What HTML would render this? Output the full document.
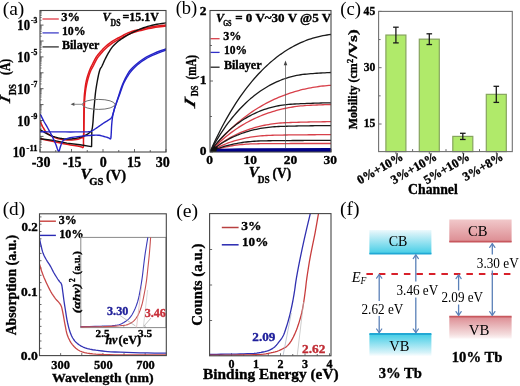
<!DOCTYPE html>
<html><head><meta charset="utf-8"><style>
html,body{margin:0;padding:0;background:#fff;}
svg{display:block;font-family:"Liberation Serif","Times New Roman",serif;}
</style></head><body>
<svg width="520" height="386" viewBox="0 0 520 386">
<rect width="520" height="386" fill="#fff"/>
<defs>
<clipPath id="ca"><rect x="40" y="10.5" width="126" height="141.5"/></clipPath>
<clipPath id="cb"><rect x="210" y="10.5" width="121" height="141.5"/></clipPath>
<clipPath id="ce"><rect x="209.6" y="213.6" width="121.4" height="142.2"/></clipPath>
<linearGradient id="gcb" x1="0" y1="0" x2="0" y2="1"><stop offset="0" stop-color="#eefafd"/><stop offset="0.15" stop-color="#d2f1f8"/><stop offset="1" stop-color="#42cde6"/></linearGradient>
<linearGradient id="gvb" x1="0" y1="0" x2="0" y2="1"><stop offset="0" stop-color="#42cde6"/><stop offset="0.85" stop-color="#d8f3f9"/><stop offset="1" stop-color="#fbfeff"/></linearGradient>
<linearGradient id="gcr" x1="0" y1="0" x2="0" y2="1"><stop offset="0" stop-color="#f1c8ca"/><stop offset="1" stop-color="#dc8c92"/></linearGradient>
<linearGradient id="gvr" x1="0" y1="0" x2="0" y2="1"><stop offset="0" stop-color="#dc8c92"/><stop offset="0.8" stop-color="#f4dcdd"/><stop offset="1" stop-color="#fdf6f6"/></linearGradient>
</defs>
<text x="2.7" y="14.6" font-size="19.5" fill="#000" style="" >(a)</text><line x1="40" y1="147.51" x2="41.8" y2="147.51" stroke="#454545" stroke-width="0.6" /><line x1="40" y1="144.71" x2="41.8" y2="144.71" stroke="#454545" stroke-width="0.6" /><line x1="40" y1="142.73" x2="41.8" y2="142.73" stroke="#454545" stroke-width="0.6" /><line x1="40" y1="141.19" x2="41.8" y2="141.19" stroke="#454545" stroke-width="0.6" /><line x1="40" y1="139.93" x2="41.8" y2="139.93" stroke="#454545" stroke-width="0.6" /><line x1="40" y1="138.86" x2="41.8" y2="138.86" stroke="#454545" stroke-width="0.6" /><line x1="40" y1="137.94" x2="41.8" y2="137.94" stroke="#454545" stroke-width="0.6" /><line x1="40" y1="137.13" x2="41.8" y2="137.13" stroke="#454545" stroke-width="0.6" /><line x1="40" y1="136.4" x2="43.5" y2="136.4" stroke="#454545" stroke-width="0.9" /><line x1="40" y1="131.61" x2="41.8" y2="131.61" stroke="#454545" stroke-width="0.6" /><line x1="40" y1="128.81" x2="41.8" y2="128.81" stroke="#454545" stroke-width="0.6" /><line x1="40" y1="126.83" x2="41.8" y2="126.83" stroke="#454545" stroke-width="0.6" /><line x1="40" y1="125.29" x2="41.8" y2="125.29" stroke="#454545" stroke-width="0.6" /><line x1="40" y1="124.03" x2="41.8" y2="124.03" stroke="#454545" stroke-width="0.6" /><line x1="40" y1="122.96" x2="41.8" y2="122.96" stroke="#454545" stroke-width="0.6" /><line x1="40" y1="122.04" x2="41.8" y2="122.04" stroke="#454545" stroke-width="0.6" /><line x1="40" y1="121.23" x2="41.8" y2="121.23" stroke="#454545" stroke-width="0.6" /><line x1="40" y1="120.5" x2="43.5" y2="120.5" stroke="#454545" stroke-width="0.9" /><line x1="40" y1="115.71" x2="41.8" y2="115.71" stroke="#454545" stroke-width="0.6" /><line x1="40" y1="112.91" x2="41.8" y2="112.91" stroke="#454545" stroke-width="0.6" /><line x1="40" y1="110.93" x2="41.8" y2="110.93" stroke="#454545" stroke-width="0.6" /><line x1="40" y1="109.39" x2="41.8" y2="109.39" stroke="#454545" stroke-width="0.6" /><line x1="40" y1="108.13" x2="41.8" y2="108.13" stroke="#454545" stroke-width="0.6" /><line x1="40" y1="107.06" x2="41.8" y2="107.06" stroke="#454545" stroke-width="0.6" /><line x1="40" y1="106.14" x2="41.8" y2="106.14" stroke="#454545" stroke-width="0.6" /><line x1="40" y1="105.33" x2="41.8" y2="105.33" stroke="#454545" stroke-width="0.6" /><line x1="40" y1="104.6" x2="43.5" y2="104.6" stroke="#454545" stroke-width="0.9" /><line x1="40" y1="99.81" x2="41.8" y2="99.81" stroke="#454545" stroke-width="0.6" /><line x1="40" y1="97.01" x2="41.8" y2="97.01" stroke="#454545" stroke-width="0.6" /><line x1="40" y1="95.03" x2="41.8" y2="95.03" stroke="#454545" stroke-width="0.6" /><line x1="40" y1="93.49" x2="41.8" y2="93.49" stroke="#454545" stroke-width="0.6" /><line x1="40" y1="92.23" x2="41.8" y2="92.23" stroke="#454545" stroke-width="0.6" /><line x1="40" y1="91.16" x2="41.8" y2="91.16" stroke="#454545" stroke-width="0.6" /><line x1="40" y1="90.24" x2="41.8" y2="90.24" stroke="#454545" stroke-width="0.6" /><line x1="40" y1="89.43" x2="41.8" y2="89.43" stroke="#454545" stroke-width="0.6" /><line x1="40" y1="88.7" x2="43.5" y2="88.7" stroke="#454545" stroke-width="0.9" /><line x1="40" y1="83.91" x2="41.8" y2="83.91" stroke="#454545" stroke-width="0.6" /><line x1="40" y1="81.11" x2="41.8" y2="81.11" stroke="#454545" stroke-width="0.6" /><line x1="40" y1="79.13" x2="41.8" y2="79.13" stroke="#454545" stroke-width="0.6" /><line x1="40" y1="77.59" x2="41.8" y2="77.59" stroke="#454545" stroke-width="0.6" /><line x1="40" y1="76.33" x2="41.8" y2="76.33" stroke="#454545" stroke-width="0.6" /><line x1="40" y1="75.26" x2="41.8" y2="75.26" stroke="#454545" stroke-width="0.6" /><line x1="40" y1="74.34" x2="41.8" y2="74.34" stroke="#454545" stroke-width="0.6" /><line x1="40" y1="73.53" x2="41.8" y2="73.53" stroke="#454545" stroke-width="0.6" /><line x1="40" y1="72.8" x2="43.5" y2="72.8" stroke="#454545" stroke-width="0.9" /><line x1="40" y1="68.01" x2="41.8" y2="68.01" stroke="#454545" stroke-width="0.6" /><line x1="40" y1="65.21" x2="41.8" y2="65.21" stroke="#454545" stroke-width="0.6" /><line x1="40" y1="63.23" x2="41.8" y2="63.23" stroke="#454545" stroke-width="0.6" /><line x1="40" y1="61.69" x2="41.8" y2="61.69" stroke="#454545" stroke-width="0.6" /><line x1="40" y1="60.43" x2="41.8" y2="60.43" stroke="#454545" stroke-width="0.6" /><line x1="40" y1="59.36" x2="41.8" y2="59.36" stroke="#454545" stroke-width="0.6" /><line x1="40" y1="58.44" x2="41.8" y2="58.44" stroke="#454545" stroke-width="0.6" /><line x1="40" y1="57.63" x2="41.8" y2="57.63" stroke="#454545" stroke-width="0.6" /><line x1="40" y1="56.9" x2="43.5" y2="56.9" stroke="#454545" stroke-width="0.9" /><line x1="40" y1="52.11" x2="41.8" y2="52.11" stroke="#454545" stroke-width="0.6" /><line x1="40" y1="49.31" x2="41.8" y2="49.31" stroke="#454545" stroke-width="0.6" /><line x1="40" y1="47.33" x2="41.8" y2="47.33" stroke="#454545" stroke-width="0.6" /><line x1="40" y1="45.79" x2="41.8" y2="45.79" stroke="#454545" stroke-width="0.6" /><line x1="40" y1="44.53" x2="41.8" y2="44.53" stroke="#454545" stroke-width="0.6" /><line x1="40" y1="43.46" x2="41.8" y2="43.46" stroke="#454545" stroke-width="0.6" /><line x1="40" y1="42.54" x2="41.8" y2="42.54" stroke="#454545" stroke-width="0.6" /><line x1="40" y1="41.73" x2="41.8" y2="41.73" stroke="#454545" stroke-width="0.6" /><line x1="40" y1="41" x2="43.5" y2="41" stroke="#454545" stroke-width="0.9" /><line x1="40" y1="36.21" x2="41.8" y2="36.21" stroke="#454545" stroke-width="0.6" /><line x1="40" y1="33.41" x2="41.8" y2="33.41" stroke="#454545" stroke-width="0.6" /><line x1="40" y1="31.43" x2="41.8" y2="31.43" stroke="#454545" stroke-width="0.6" /><line x1="40" y1="29.89" x2="41.8" y2="29.89" stroke="#454545" stroke-width="0.6" /><line x1="40" y1="28.63" x2="41.8" y2="28.63" stroke="#454545" stroke-width="0.6" /><line x1="40" y1="27.56" x2="41.8" y2="27.56" stroke="#454545" stroke-width="0.6" /><line x1="40" y1="26.64" x2="41.8" y2="26.64" stroke="#454545" stroke-width="0.6" /><line x1="40" y1="25.83" x2="41.8" y2="25.83" stroke="#454545" stroke-width="0.6" /><line x1="40" y1="25.1" x2="43.5" y2="25.1" stroke="#454545" stroke-width="0.9" /><line x1="40" y1="20.31" x2="41.8" y2="20.31" stroke="#454545" stroke-width="0.6" /><line x1="40" y1="17.51" x2="41.8" y2="17.51" stroke="#454545" stroke-width="0.6" /><line x1="40" y1="15.53" x2="41.8" y2="15.53" stroke="#454545" stroke-width="0.6" /><line x1="40" y1="13.99" x2="41.8" y2="13.99" stroke="#454545" stroke-width="0.6" /><line x1="40" y1="12.73" x2="41.8" y2="12.73" stroke="#454545" stroke-width="0.6" /><line x1="40" y1="11.66" x2="41.8" y2="11.66" stroke="#454545" stroke-width="0.6" /><line x1="40" y1="10.74" x2="41.8" y2="10.74" stroke="#454545" stroke-width="0.6" /><line x1="40" y1="152" x2="40" y2="149" stroke="#454545" stroke-width="0.8" /><line x1="55.75" y1="152" x2="55.75" y2="150" stroke="#454545" stroke-width="0.8" /><line x1="71.5" y1="152" x2="71.5" y2="149" stroke="#454545" stroke-width="0.8" /><line x1="87.25" y1="152" x2="87.25" y2="150" stroke="#454545" stroke-width="0.8" /><line x1="103" y1="152" x2="103" y2="149" stroke="#454545" stroke-width="0.8" /><line x1="118.75" y1="152" x2="118.75" y2="150" stroke="#454545" stroke-width="0.8" /><line x1="134.5" y1="152" x2="134.5" y2="149" stroke="#454545" stroke-width="0.8" /><line x1="150.25" y1="152" x2="150.25" y2="150" stroke="#454545" stroke-width="0.8" /><line x1="166" y1="152" x2="166" y2="149" stroke="#454545" stroke-width="0.8" /><text x="17.3" y="30" font-size="14.8" fill="#000" textLength="12.7" lengthAdjust="spacingAndGlyphs" style="font-weight:bold;stroke:#000;stroke-width:0.35px" >10</text><text x="31" y="22.8" font-size="8.6" fill="#000" textLength="6.4" lengthAdjust="spacingAndGlyphs" style="font-weight:bold;stroke:#000;stroke-width:0.35px" >-3</text><text x="17.3" y="62.1" font-size="14.8" fill="#000" textLength="12.7" lengthAdjust="spacingAndGlyphs" style="font-weight:bold;stroke:#000;stroke-width:0.35px" >10</text><text x="31" y="54.9" font-size="8.6" fill="#000" textLength="6.4" lengthAdjust="spacingAndGlyphs" style="font-weight:bold;stroke:#000;stroke-width:0.35px" >-5</text><text x="17.3" y="93.8" font-size="14.8" fill="#000" textLength="12.7" lengthAdjust="spacingAndGlyphs" style="font-weight:bold;stroke:#000;stroke-width:0.35px" >10</text><text x="31" y="86.6" font-size="8.6" fill="#000" textLength="6.4" lengthAdjust="spacingAndGlyphs" style="font-weight:bold;stroke:#000;stroke-width:0.35px" >-7</text><text x="17.3" y="126" font-size="14.8" fill="#000" textLength="12.7" lengthAdjust="spacingAndGlyphs" style="font-weight:bold;stroke:#000;stroke-width:0.35px" >10</text><text x="31" y="118.8" font-size="8.6" fill="#000" textLength="6.4" lengthAdjust="spacingAndGlyphs" style="font-weight:bold;stroke:#000;stroke-width:0.35px" >-9</text><text x="12.7" y="156.9" font-size="14.8" fill="#000" textLength="12.8" lengthAdjust="spacingAndGlyphs" style="font-weight:bold;stroke:#000;stroke-width:0.35px" >10</text><text x="26.6" y="150.6" font-size="8.6" fill="#000" textLength="10.8" lengthAdjust="spacingAndGlyphs" style="font-weight:bold;stroke:#000;stroke-width:0.35px" >-11</text><text x="41.2" y="167" font-size="14" fill="#000" text-anchor="middle" style="font-weight:bold;stroke:#000;stroke-width:0.35px" >-30</text><text x="72.2" y="167" font-size="14" fill="#000" text-anchor="middle" style="font-weight:bold;stroke:#000;stroke-width:0.35px" >-15</text><text x="103.2" y="167" font-size="14" fill="#000" text-anchor="middle" style="font-weight:bold;stroke:#000;stroke-width:0.35px" >0</text><text x="133.9" y="167" font-size="14" fill="#000" text-anchor="middle" style="font-weight:bold;stroke:#000;stroke-width:0.35px" >15</text><text x="162.7" y="167" font-size="14" fill="#000" text-anchor="middle" style="font-weight:bold;stroke:#000;stroke-width:0.35px" >30</text><text x="80.4" y="178.9" font-size="15" fill="#000" textLength="10.6" lengthAdjust="spacingAndGlyphs" style="font-weight:bold;stroke:#000;stroke-width:0.35px;font-style:italic" >V</text><text x="89.2" y="185.3" font-size="10" fill="#000" textLength="14.2" lengthAdjust="spacingAndGlyphs" style="font-weight:bold;stroke:#000;stroke-width:0.35px" >GS</text><text x="106" y="179.8" font-size="15" fill="#000" textLength="20.2" lengthAdjust="spacingAndGlyphs" style="font-weight:bold;stroke:#000;stroke-width:0.35px" >(V)</text><text transform="translate(10.4,103.2) rotate(-90) skewX(-14)" font-size="15" style="font-weight:bold;font-style:italic;stroke:#000;stroke-width:0.35px">I</text><text transform="translate(15.6,95.2) rotate(-90)" font-size="9.8" fill="#000" textLength="11.2" lengthAdjust="spacingAndGlyphs" style="font-weight:bold;stroke:#000;stroke-width:0.35px" >DS</text><text transform="translate(10.2,74.9) rotate(-90)" font-size="14" fill="#000" textLength="16" lengthAdjust="spacingAndGlyphs" style="font-weight:bold;stroke:#000;stroke-width:0.35px" >(A)</text><line x1="42.5" y1="19" x2="58.8" y2="19" stroke="#e03a46" stroke-width="1.3" /><line x1="42.5" y1="32.9" x2="58.8" y2="32.9" stroke="#4040c8" stroke-width="1.3" /><line x1="42.5" y1="46.9" x2="58.8" y2="46.9" stroke="#303030" stroke-width="1.3" /><text x="61.3" y="21.3" font-size="12.2" fill="#000" textLength="18.7" lengthAdjust="spacingAndGlyphs" style="font-weight:bold;stroke:#000;stroke-width:0.35px" >3%</text><text x="61.9" y="35" font-size="12.2" fill="#000" textLength="23.7" lengthAdjust="spacingAndGlyphs" style="font-weight:bold;stroke:#000;stroke-width:0.35px" >10%</text><text x="61.9" y="48.8" font-size="12.2" fill="#000" textLength="37.5" lengthAdjust="spacingAndGlyphs" style="font-weight:bold;stroke:#000;stroke-width:0.35px" >Bilayer</text><text x="102.4" y="20.9" font-size="12" fill="#000" style="font-weight:bold;stroke:#000;stroke-width:0.35px;font-style:italic" >V</text><text x="110.6" y="26.2" font-size="9.5" fill="#000" textLength="10" lengthAdjust="spacingAndGlyphs" style="font-weight:bold;stroke:#000;stroke-width:0.35px" >DS</text><text x="122.5" y="21.2" font-size="12" fill="#000" textLength="36.3" lengthAdjust="spacingAndGlyphs" style="font-weight:bold;stroke:#000;stroke-width:0.35px" >=15.1V</text><g clip-path="url(#ca)"><path d="M40,121.5 L40.72,122.91 L41.75,124.94 L42.91,127.12 L44,129 L44.87,130.44 L45.66,131.69 L46.61,132.84 L48,134 L49.99,135.23 L52.41,136.47 L55,137.6 L57.5,138.5 L59.88,139.13 L62.26,139.56 L64.64,139.84 L67,140 L69.44,140.04 L71.92,139.95 L74.27,139.76 L76.3,139.5 L77.96,139.16 L79.35,138.73 L80.51,138.26 L81.5,137.8 L82.29,137.69 L82.86,137.79 L83.28,137.45 L83.6,136 L83.78,133.09 L83.81,129.14 L83.79,124.61 L83.8,120 L83.86,115.05 L83.91,109.62 L83.99,104.39 L84.1,100 L84.25,96.79 L84.42,94.35 L84.64,92.24 L84.9,90 L85.19,87.57 L85.52,85.16 L85.91,82.78 L86.4,80.4 L87.02,77.97 L87.76,75.51 L88.54,73.14 L89.3,71 L90.02,69.19 L90.73,67.63 L91.48,66.13 L92.3,64.5 L93.24,62.63 L94.26,60.64 L95.3,58.7 L96.3,57 L97.22,55.64 L98.09,54.51 L98.99,53.45 L100,52.3 L101.15,51 L102.39,49.63 L103.69,48.28 L105,47 L106.33,45.81 L107.69,44.67 L109.06,43.59 L110.4,42.6 L111.69,41.71 L112.96,40.9 L114.23,40.14 L115.5,39.4 L116.77,38.68 L118.03,38 L119.33,37.32 L120.7,36.6 L122.18,35.81 L123.73,34.98 L125.32,34.15 L126.9,33.4 L128.46,32.72 L130.01,32.1 L131.59,31.52 L133.2,31 L134.84,30.55 L136.51,30.16 L138.22,29.8 L140,29.4 L141.83,28.96 L143.7,28.49 L145.65,28.03 L147.7,27.6 L149.9,27.19 L152.21,26.8 L154.57,26.43 L156.9,26.1 L159.4,25.79 L162.03,25.51 L164.37,25.27 L166,25.1" fill="none" stroke="#e0191e" stroke-width="1.5" stroke-linejoin="round" stroke-linecap="round" /><path d="M40,138.8 L42.43,139.31 L45.91,140.03 L49.81,140.84 L53.5,141.6 L56.89,142.29 L60.28,142.99 L63.66,143.66 L67,144.3 L70.51,144.92 L74.14,145.53 L77.45,146.07 L80,146.5 L81.56,146.97 L82.39,147.44 L82.83,147.62 L83.2,147.2 L83.48,146.14 L83.53,144.58 L83.49,142.53 L83.5,140 L83.59,136.92 L83.69,133.3 L83.79,129.28 L83.9,125 L84.01,120.19 L84.11,114.88 L84.24,109.62 L84.4,105 L84.59,101.2 L84.81,97.91 L85.08,94.91 L85.4,92 L85.79,89.18 L86.23,86.53 L86.73,84 L87.3,81.5 L87.95,78.98 L88.68,76.48 L89.44,74.12 L90.2,72 L90.94,70.25 L91.68,68.78 L92.46,67.37 L93.3,65.8 L94.24,63.93 L95.26,61.91 L96.3,59.93 L97.3,58.2 L98.22,56.84 L99.09,55.71 L99.99,54.65 L101,53.5 L102.15,52.2 L103.39,50.83 L104.69,49.48 L106,48.2 L107.33,47.01 L108.69,45.87 L110.06,44.79 L111.4,43.8 L112.69,42.91 L113.96,42.1 L115.23,41.34 L116.5,40.6 L117.77,39.88 L119.03,39.2 L120.33,38.52 L121.7,37.8 L123.18,37.01 L124.73,36.17 L126.32,35.35 L127.9,34.6 L129.46,33.93 L131.01,33.31 L132.59,32.74 L134.2,32.2 L135.84,31.71 L137.51,31.26 L139.22,30.84 L141,30.4 L142.83,29.95 L144.7,29.49 L146.65,29.04 L148.7,28.6 L150.92,28.17 L153.28,27.75 L155.64,27.35 L157.9,27 L160.19,26.68 L162.53,26.4 L164.57,26.17 L166,26" fill="none" stroke="#e0191e" stroke-width="1.5" stroke-linejoin="round" stroke-linecap="round" /><path d="M40,129.6 L41.21,130.35 L42.96,131.43 L44.9,132.6 L46.7,133.6 L48.28,134.39 L49.82,135.08 L51.37,135.71 L53,136.3 L54.75,136.86 L56.57,137.37 L58.41,137.82 L60.2,138.2 L61.92,138.51 L63.61,138.74 L65.3,138.91 L67,139 L68.75,139.01 L70.53,138.94 L72.29,138.8 L74,138.6 L75.66,138.34 L77.29,138.01 L78.87,137.63 L80.4,137.2 L81.91,136.71 L83.38,136.16 L84.77,135.58 L86,135 L87.05,134.42 L87.96,133.82 L88.76,133.22 L89.5,132.6 L90.19,132.04 L90.81,131.52 L91.34,130.89 L91.8,130 L92.15,128.86 L92.39,127.53 L92.59,125.93 L92.8,124 L93.01,121.6 L93.2,118.81 L93.39,115.87 L93.6,113 L93.83,110.25 L94.08,107.5 L94.34,104.75 L94.6,102 L94.84,99.29 L95.08,96.59 L95.35,93.86 L95.7,91 L96.16,87.89 L96.69,84.59 L97.26,81.38 L97.8,78.5 L98.3,75.99 L98.79,73.72 L99.29,71.71 L99.8,70 L100.32,68.73 L100.86,67.84 L101.41,67.04 L102,66 L102.62,64.66 L103.26,63.18 L103.95,61.6 L104.7,60 L105.53,58.34 L106.41,56.62 L107.34,54.88 L108.3,53.2 L109.26,51.56 L110.25,49.94 L111.29,48.38 L112.4,46.9 L113.62,45.51 L114.93,44.19 L116.27,42.95 L117.6,41.8 L118.88,40.78 L120.14,39.87 L121.43,39 L122.8,38.1 L124.3,37.13 L125.9,36.13 L127.5,35.17 L129,34.3 L130.36,33.56 L131.62,32.92 L132.88,32.31 L134.2,31.7 L135.56,31.07 L136.94,30.46 L138.4,29.84 L140,29.2 L141.76,28.5 L143.64,27.77 L145.62,27.06 L147.7,26.4 L149.9,25.81 L152.21,25.26 L154.57,24.76 L156.9,24.3 L159.4,23.87 L162.03,23.47 L164.37,23.14 L166,22.9" fill="none" stroke="#111" stroke-width="1.4" stroke-linejoin="round" stroke-linecap="round" /><path d="M40,138.8 L53.5,140.4 L67,143.1 L80,144.8 L91.3,146.6 L91.6,146.6 L91.7,140 L91.8,132" fill="none" stroke="#111" stroke-width="1.4" stroke-linejoin="round" stroke-linecap="round" /><path d="M40.5,114.6 L41.12,115.84 L42,117.61 L43.01,119.61 L44,121.5 L44.96,123.23 L45.97,124.96 L46.99,126.71 L48,128.5 L49.01,130.34 L50.03,132.22 L51.04,134.11 L52,136 L52.92,137.86 L53.81,139.72 L54.66,141.59 L55.5,143.5 L56.34,145.76 L57.16,148.25 L57.93,150.37 L58.6,151.5 L59.12,151.27 L59.52,150.06 L59.89,148.45 L60.3,147 L60.75,145.72 L61.21,144.37 L61.69,143.08 L62.2,142 L62.67,141.2 L63.13,140.6 L63.69,140.1 L64.5,139.6 L65.59,139.09 L66.89,138.63 L68.37,138.19 L70,137.8 L71.82,137.45 L73.84,137.14 L75.94,136.86 L78,136.6 L80,136.37 L82.01,136.16 L84.01,135.98 L86,135.8 L88.02,135.62 L90.06,135.44 L92.02,135.3 L93.8,135.2 L95.33,135.15 L96.69,135.14 L97.95,135.18 L99.2,135.3 L100.45,135.52 L101.66,135.82 L102.84,136.17 L104,136.5 L105.2,136.82 L106.42,137.16 L107.55,137.49 L108.5,137.8 L109.23,138.21 L109.79,138.68 L110.24,138.96 L110.6,138.8 L110.86,138.08 L111.01,136.96 L111.1,135.56 L111.2,134 L111.3,132.23 L111.39,130.2 L111.48,128.07 L111.6,126 L111.76,123.98 L111.94,121.94 L112.15,119.93 L112.4,118 L112.69,116.18 L113.01,114.44 L113.38,112.73 L113.8,111 L114.28,109.27 L114.82,107.56 L115.4,105.82 L116,104 L116.6,102.13 L117.22,100.22 L117.88,98.2 L118.6,96 L119.4,93.5 L120.27,90.78 L121.18,88.04 L122.1,85.5 L123.04,83.19 L124.02,81 L125.01,78.94 L126,77 L126.95,75.22 L127.87,73.59 L128.86,72.04 L130,70.5 L131.31,68.96 L132.76,67.46 L134.32,65.98 L136,64.5 L137.79,63 L139.69,61.51 L141.73,60.03 L143.9,58.6 L146.23,57.21 L148.69,55.86 L151.29,54.55 L154,53.3 L157.15,52.01 L160.63,50.72 L163.8,49.59 L166,48.8" fill="none" stroke="#2424c8" stroke-width="1.4" stroke-linejoin="round" stroke-linecap="round" /><path d="M40,131.8 L43.59,131.82 L48.75,131.85 L54.53,131.88 L60,131.9 L65.23,131.91 L70.62,131.93 L75.7,131.92 L80,131.9 L83.36,131.87 L86.06,131.84 L88.22,131.76 L90,131.6 L91.22,131.37 L91.87,131.08 L92.36,130.7 L93.1,130.2 L94.2,129.53 L95.43,128.73 L96.73,127.86 L98,127 L99.24,126.14 L100.49,125.24 L101.75,124.35 L103,123.5 L104.29,122.69 L105.59,121.91 L106.86,121.14 L108,120.4 L109.02,119.72 L109.95,119.09 L110.78,118.42 L111.5,117.6 L112.07,116.61 L112.51,115.5 L112.9,114.29 L113.3,113 L113.72,111.59 L114.14,110.06 L114.56,108.5 L115,107 L115.46,105.64 L115.93,104.34 L116.44,103 L117,101.5 L117.62,99.82 L118.3,98.03 L119.02,96.1 L119.8,94 L120.64,91.6 L121.55,88.96 L122.48,86.33 L123.4,84 L124.28,82.07 L125.14,80.38 L126.04,78.8 L127,77.2 L128.03,75.56 L129.1,73.95 L130.25,72.36 L131.5,70.8 L132.86,69.26 L134.31,67.74 L135.86,66.26 L137.5,64.8 L139.21,63.38 L141,61.99 L142.91,60.63 L145,59.3 L147.3,58 L149.78,56.72 L152.37,55.49 L155,54.3 L157.94,53.07 L161.12,51.84 L164,50.76 L166,50" fill="none" stroke="#2424c8" stroke-width="1.4" stroke-linejoin="round" stroke-linecap="round" /></g><ellipse cx="98.6" cy="104.4" rx="16.3" ry="5" fill="none" stroke="#707070" stroke-width="1"/><line x1="82.3" y1="104.3" x2="72.5" y2="104.3" stroke="#707070" stroke-width="0.8" /><path d="M70.6,104.3 L74.4,102.6 L74.4,106 Z" fill="#555"/><rect x="40" y="10.5" width="126" height="141.5" fill="none" stroke="#454545" stroke-width="1.1" /><text x="175.7" y="14.2" font-size="19.5" fill="#000" textLength="21.6" lengthAdjust="spacingAndGlyphs" style="" >(b)</text><line x1="250.33" y1="152" x2="250.33" y2="149" stroke="#454545" stroke-width="0.8" /><line x1="230.17" y1="152" x2="230.17" y2="150" stroke="#454545" stroke-width="0.8" /><line x1="290.67" y1="152" x2="290.67" y2="149" stroke="#454545" stroke-width="0.8" /><line x1="270.5" y1="152" x2="270.5" y2="150" stroke="#454545" stroke-width="0.8" /><line x1="331" y1="152" x2="331" y2="149" stroke="#454545" stroke-width="0.8" /><line x1="310.83" y1="152" x2="310.83" y2="150" stroke="#454545" stroke-width="0.8" /><line x1="210" y1="152" x2="213" y2="152" stroke="#454545" stroke-width="0.8" /><line x1="210" y1="116.5" x2="212" y2="116.5" stroke="#454545" stroke-width="0.8" /><line x1="210" y1="81" x2="213" y2="81" stroke="#454545" stroke-width="0.8" /><line x1="210" y1="45.5" x2="212" y2="45.5" stroke="#454545" stroke-width="0.8" /><line x1="210" y1="10.5" x2="213" y2="10.5" stroke="#454545" stroke-width="0.8" /><text x="203" y="155" font-size="13.5" fill="#000" text-anchor="middle" style="font-weight:bold;stroke:#000;stroke-width:0.35px" >0</text><text x="203" y="84.1" font-size="13.5" fill="#000" text-anchor="middle" style="font-weight:bold;stroke:#000;stroke-width:0.35px" >1</text><text x="203" y="14.6" font-size="13.5" fill="#000" text-anchor="middle" style="font-weight:bold;stroke:#000;stroke-width:0.35px" >2</text><text x="209.6" y="163.8" font-size="13.5" fill="#000" text-anchor="middle" style="font-weight:bold;stroke:#000;stroke-width:0.35px" >0</text><text x="250.2" y="163.8" font-size="13.5" fill="#000" text-anchor="middle" style="font-weight:bold;stroke:#000;stroke-width:0.35px" >10</text><text x="290.5" y="163.8" font-size="13.5" fill="#000" text-anchor="middle" style="font-weight:bold;stroke:#000;stroke-width:0.35px" >20</text><text x="330.3" y="163.8" font-size="13.5" fill="#000" text-anchor="middle" style="font-weight:bold;stroke:#000;stroke-width:0.35px" >30</text><text x="248.8" y="177.3" font-size="14.5" fill="#000" textLength="10" lengthAdjust="spacingAndGlyphs" style="font-weight:bold;stroke:#000;stroke-width:0.35px;font-style:italic" >V</text><text x="257.7" y="182.5" font-size="10" fill="#000" textLength="11.9" lengthAdjust="spacingAndGlyphs" style="font-weight:bold;stroke:#000;stroke-width:0.35px" >DS</text><text x="272.6" y="178.3" font-size="14.5" fill="#000" textLength="18.6" lengthAdjust="spacingAndGlyphs" style="font-weight:bold;stroke:#000;stroke-width:0.35px" >(V)</text><text transform="translate(195.4,108.6) rotate(-90) skewX(-22)" font-size="15.5" style="font-weight:bold;font-style:italic;stroke:#000;stroke-width:0.35px" textLength="7.5" lengthAdjust="spacingAndGlyphs">I</text><text transform="translate(197.9,96.3) rotate(-90)" font-size="9.8" fill="#000" textLength="10.7" lengthAdjust="spacingAndGlyphs" style="font-weight:bold;stroke:#000;stroke-width:0.35px" >DS</text><text transform="translate(195.6,79.4) rotate(-90)" font-size="14" fill="#000" textLength="24.4" lengthAdjust="spacingAndGlyphs" style="font-weight:bold;stroke:#000;stroke-width:0.35px" >(mA)</text><text x="216" y="22" font-size="12" fill="#000" style="font-weight:bold;stroke:#000;stroke-width:0.35px;font-style:italic" >V</text><text x="223.2" y="25.8" font-size="8" fill="#000" textLength="8.4" lengthAdjust="spacingAndGlyphs" style="font-weight:bold;stroke:#000;stroke-width:0.35px" >GS</text><text x="235.2" y="22" font-size="12" fill="#000" textLength="96" lengthAdjust="spacingAndGlyphs" style="font-weight:bold;stroke:#000;stroke-width:0.35px" >= 0 V~30 V @5 V</text><line x1="210.5" y1="38.7" x2="219.6" y2="38.7" stroke="#d8404a" stroke-width="1.3" /><line x1="210.5" y1="52.4" x2="219.6" y2="52.4" stroke="#3030c8" stroke-width="1.3" /><line x1="210.5" y1="67.2" x2="219.6" y2="67.2" stroke="#222" stroke-width="1.3" /><text x="223.3" y="40.2" font-size="12.2" fill="#000" textLength="18.2" lengthAdjust="spacingAndGlyphs" style="font-weight:bold;stroke:#000;stroke-width:0.35px" >3%</text><text x="223.9" y="54.2" font-size="12.2" fill="#000" textLength="23.1" lengthAdjust="spacingAndGlyphs" style="font-weight:bold;stroke:#000;stroke-width:0.35px" >10%</text><text x="223.9" y="68.8" font-size="12.2" fill="#000" textLength="37.7" lengthAdjust="spacingAndGlyphs" style="font-weight:bold;stroke:#000;stroke-width:0.35px" >Bilayer</text><g clip-path="url(#cb)"><path d="M210,152 L212.02,149.43 L214.03,146.94 L216.05,144.53 L218.07,142.18 L220.08,139.91 L222.1,137.71 L224.12,135.57 L226.13,133.49 L228.15,131.48 L230.17,129.53 L232.18,127.64 L234.2,125.81 L236.22,124.03 L238.23,122.31 L240.25,120.64 L242.27,119.02 L244.28,117.45 L246.3,115.93 L248.32,114.46 L250.33,113.03 L252.35,111.65 L254.37,110.32 L256.38,109.03 L258.4,107.78 L260.42,106.57 L262.43,105.41 L264.45,104.28 L266.47,103.19 L268.48,102.14 L270.5,101.13 L272.52,100.15 L274.53,99.21 L276.55,98.31 L278.57,97.44 L280.58,96.6 L282.6,95.8 L284.62,95.03 L286.63,94.29 L288.65,93.58 L290.67,92.91 L292.68,92.26 L294.7,91.65 L296.72,91.06 L298.73,90.51 L300.75,89.98 L302.77,89.48 L304.78,89.01 L306.8,88.57 L308.82,88.16 L310.83,87.77 L312.85,87.41 L314.87,87.08 L316.88,86.77 L318.9,86.49 L320.92,86.23 L322.93,86 L324.95,85.8 L326.97,85.62 L328.98,85.46 L331,85.33" fill="none" stroke="#d8404a" stroke-width="1.3" stroke-linejoin="round" stroke-linecap="round" /><path d="M210,152 L212.02,149.81 L214.03,147.7 L216.05,145.66 L218.07,143.7 L220.08,141.81 L222.1,140 L224.12,138.24 L226.13,136.56 L228.15,134.93 L230.17,133.37 L232.18,131.86 L234.2,130.41 L236.22,129.02 L238.23,127.67 L240.25,126.38 L242.27,125.14 L244.28,123.95 L246.3,122.8 L248.32,121.7 L250.33,120.65 L252.35,119.63 L254.37,118.66 L256.38,117.73 L258.4,116.84 L260.42,115.99 L262.43,115.17 L264.45,114.4 L266.47,113.66 L268.48,112.95 L270.5,112.28 L272.52,111.64 L274.53,111.04 L276.55,110.47 L278.57,109.93 L280.58,109.43 L282.6,108.95 L284.62,108.5 L286.63,108.09 L288.65,107.7 L290.67,107.34 L292.68,107.01 L294.7,106.71 L296.72,106.44 L298.73,106.19 L300.75,105.97 L302.77,105.78 L304.78,105.61 L306.8,105.47 L308.82,105.36 L310.83,105.26 L312.85,105.16 L314.87,105.08 L316.88,104.99 L318.9,104.91 L320.92,104.83 L322.93,104.76 L324.95,104.69 L326.97,104.62 L328.98,104.56 L331,104.5" fill="none" stroke="#d8404a" stroke-width="1.3" stroke-linejoin="round" stroke-linecap="round" /><path d="M210,152 L212.02,150.23 L214.03,148.54 L216.05,146.94 L218.07,145.41 L220.08,143.95 L222.1,142.56 L224.12,141.23 L226.13,139.97 L228.15,138.77 L230.17,137.63 L232.18,136.54 L234.2,135.5 L236.22,134.52 L238.23,133.59 L240.25,132.7 L242.27,131.86 L244.28,131.06 L246.3,130.31 L248.32,129.6 L250.33,128.93 L252.35,128.3 L254.37,127.7 L256.38,127.14 L258.4,126.62 L260.42,126.13 L262.43,125.68 L264.45,125.26 L266.47,124.87 L268.48,124.52 L270.5,124.19 L272.52,123.9 L274.53,123.63 L276.55,123.4 L278.57,123.19 L280.58,123.01 L282.6,122.86 L284.62,122.74 L286.63,122.64 L288.65,122.56 L290.67,122.49 L292.68,122.42 L294.7,122.35 L296.72,122.29 L298.73,122.23 L300.75,122.18 L302.77,122.13 L304.78,122.08 L306.8,122.04 L308.82,122 L310.83,121.96 L312.85,121.92 L314.87,121.89 L316.88,121.86 L318.9,121.83 L320.92,121.8 L322.93,121.77 L324.95,121.75 L326.97,121.72 L328.98,121.7 L331,121.68" fill="none" stroke="#d8404a" stroke-width="1.3" stroke-linejoin="round" stroke-linecap="round" /><path d="M210,152 L212.02,150.74 L214.03,149.55 L216.05,148.43 L218.07,147.37 L220.08,146.38 L222.1,145.45 L224.12,144.58 L226.13,143.75 L228.15,142.98 L230.17,142.26 L232.18,141.58 L234.2,140.94 L236.22,140.35 L238.23,139.8 L240.25,139.28 L242.27,138.8 L244.28,138.36 L246.3,137.95 L248.32,137.57 L250.33,137.22 L252.35,136.91 L254.37,136.63 L256.38,136.37 L258.4,136.14 L260.42,135.94 L262.43,135.77 L264.45,135.62 L266.47,135.5 L268.48,135.4 L270.5,135.33 L272.52,135.27 L274.53,135.22 L276.55,135.17 L278.57,135.13 L280.58,135.09 L282.6,135.05 L284.62,135.02 L286.63,134.98 L288.65,134.95 L290.67,134.93 L292.68,134.9 L294.7,134.88 L296.72,134.86 L298.73,134.84 L300.75,134.82 L302.77,134.81 L304.78,134.79 L306.8,134.78 L308.82,134.76 L310.83,134.75 L312.85,134.74 L314.87,134.73 L316.88,134.72 L318.9,134.71 L320.92,134.71 L322.93,134.7 L324.95,134.69 L326.97,134.69 L328.98,134.68 L331,134.68" fill="none" stroke="#d8404a" stroke-width="1.3" stroke-linejoin="round" stroke-linecap="round" /><path d="M210,152 L212.02,151.16 L214.03,150.39 L216.05,149.69 L218.07,149.03 L220.08,148.44 L222.1,147.89 L224.12,147.38 L226.13,146.92 L228.15,146.5 L230.17,146.11 L232.18,145.76 L234.2,145.45 L236.22,145.16 L238.23,144.91 L240.25,144.68 L242.27,144.48 L244.28,144.31 L246.3,144.17 L248.32,144.05 L250.33,143.95 L252.35,143.88 L254.37,143.83 L256.38,143.79 L258.4,143.75 L260.42,143.72 L262.43,143.7 L264.45,143.67 L266.47,143.65 L268.48,143.63 L270.5,143.62 L272.52,143.6 L274.53,143.59 L276.55,143.58 L278.57,143.56 L280.58,143.56 L282.6,143.55 L284.62,143.54 L286.63,143.53 L288.65,143.53 L290.67,143.52 L292.68,143.52 L294.7,143.51 L296.72,143.51 L298.73,143.5 L300.75,143.5 L302.77,143.5 L304.78,143.5 L306.8,143.49 L308.82,143.49 L310.83,143.49 L312.85,143.49 L314.87,143.49 L316.88,143.49 L318.9,143.48 L320.92,143.48 L322.93,143.48 L324.95,143.48 L326.97,143.48 L328.98,143.48 L331,143.48" fill="none" stroke="#d8404a" stroke-width="1.3" stroke-linejoin="round" stroke-linecap="round" /><path d="M210,152 L212.02,147.47 L214.03,143.08 L216.05,138.83 L218.07,134.7 L220.08,130.69 L222.1,126.81 L224.12,123.04 L226.13,119.38 L228.15,115.84 L230.17,112.4 L232.18,109.07 L234.2,105.84 L236.22,102.7 L238.23,99.67 L240.25,96.72 L242.27,93.87 L244.28,91.11 L246.3,88.43 L248.32,85.83 L250.33,83.32 L252.35,80.89 L254.37,78.54 L256.38,76.26 L258.4,74.06 L260.42,71.93 L262.43,69.88 L264.45,67.89 L266.47,65.97 L268.48,64.12 L270.5,62.34 L272.52,60.62 L274.53,58.96 L276.55,57.36 L278.57,55.83 L280.58,54.35 L282.6,52.94 L284.62,51.58 L286.63,50.28 L288.65,49.04 L290.67,47.85 L292.68,46.71 L294.7,45.63 L296.72,44.6 L298.73,43.62 L300.75,42.69 L302.77,41.81 L304.78,40.99 L306.8,40.21 L308.82,39.48 L310.83,38.8 L312.85,38.16 L314.87,37.57 L316.88,37.03 L318.9,36.54 L320.92,36.09 L322.93,35.68 L324.95,35.32 L326.97,35 L328.98,34.73 L331,34.5" fill="none" stroke="#1a1a1a" stroke-width="1.3" stroke-linejoin="round" stroke-linecap="round" /><path d="M210,152 L212.02,148.26 L214.03,144.66 L216.05,141.2 L218.07,137.86 L220.08,134.65 L222.1,131.56 L224.12,128.59 L226.13,125.73 L228.15,122.97 L230.17,120.32 L232.18,117.77 L234.2,115.32 L236.22,112.96 L238.23,110.7 L240.25,108.52 L242.27,106.43 L244.28,104.42 L246.3,102.49 L248.32,100.64 L250.33,98.87 L252.35,97.17 L254.37,95.55 L256.38,93.99 L258.4,92.5 L260.42,91.08 L262.43,89.73 L264.45,88.44 L266.47,87.21 L268.48,86.04 L270.5,84.93 L272.52,83.88 L274.53,82.89 L276.55,81.95 L278.57,81.07 L280.58,80.24 L282.6,79.47 L284.62,78.75 L286.63,78.08 L288.65,77.46 L290.67,76.88 L292.68,76.36 L294.7,75.89 L296.72,75.46 L298.73,75.09 L300.75,74.75 L302.77,74.47 L304.78,74.23 L306.8,74.03 L308.82,73.86 L310.83,73.7 L312.85,73.55 L314.87,73.4 L316.88,73.27 L318.9,73.14 L320.92,73.01 L322.93,72.89 L324.95,72.78 L326.97,72.68 L328.98,72.58 L331,72.48" fill="none" stroke="#1a1a1a" stroke-width="1.3" stroke-linejoin="round" stroke-linecap="round" /><path d="M210,152 L212.02,149.26 L214.03,146.65 L216.05,144.15 L218.07,141.76 L220.08,139.48 L222.1,137.31 L224.12,135.23 L226.13,133.24 L228.15,131.35 L230.17,129.54 L232.18,127.81 L234.2,126.17 L236.22,124.6 L238.23,123.11 L240.25,121.68 L242.27,120.33 L244.28,119.05 L246.3,117.82 L248.32,116.67 L250.33,115.57 L252.35,114.53 L254.37,113.55 L256.38,112.62 L258.4,111.75 L260.42,110.93 L262.43,110.16 L264.45,109.45 L266.47,108.78 L268.48,108.16 L270.5,107.59 L272.52,107.06 L274.53,106.58 L276.55,106.14 L278.57,105.74 L280.58,105.39 L282.6,105.08 L284.62,104.82 L286.63,104.59 L288.65,104.4 L290.67,104.25 L292.68,104.13 L294.7,104.01 L296.72,103.91 L298.73,103.8 L300.75,103.71 L302.77,103.62 L304.78,103.53 L306.8,103.45 L308.82,103.38 L310.83,103.31 L312.85,103.24 L314.87,103.18 L316.88,103.12 L318.9,103.06 L320.92,103.01 L322.93,102.96 L324.95,102.92 L326.97,102.87 L328.98,102.83 L331,102.8" fill="none" stroke="#1a1a1a" stroke-width="1.3" stroke-linejoin="round" stroke-linecap="round" /><path d="M210,152 L212.02,150.29 L214.03,148.67 L216.05,147.13 L218.07,145.67 L220.08,144.29 L222.1,142.98 L224.12,141.75 L226.13,140.57 L228.15,139.47 L230.17,138.42 L232.18,137.42 L234.2,136.49 L236.22,135.6 L238.23,134.77 L240.25,133.99 L242.27,133.25 L244.28,132.56 L246.3,131.91 L248.32,131.3 L250.33,130.73 L252.35,130.21 L254.37,129.72 L256.38,129.27 L258.4,128.85 L260.42,128.47 L262.43,128.13 L264.45,127.81 L266.47,127.54 L268.48,127.29 L270.5,127.07 L272.52,126.89 L274.53,126.74 L276.55,126.61 L278.57,126.52 L280.58,126.44 L282.6,126.37 L284.62,126.3 L286.63,126.24 L288.65,126.18 L290.67,126.13 L292.68,126.08 L294.7,126.03 L296.72,125.99 L298.73,125.95 L300.75,125.91 L302.77,125.88 L304.78,125.85 L306.8,125.82 L308.82,125.79 L310.83,125.76 L312.85,125.74 L314.87,125.72 L316.88,125.7 L318.9,125.68 L320.92,125.66 L322.93,125.64 L324.95,125.63 L326.97,125.61 L328.98,125.6 L331,125.59" fill="none" stroke="#1a1a1a" stroke-width="1.3" stroke-linejoin="round" stroke-linecap="round" /><path d="M210,152 L212.02,151.03 L214.03,150.13 L216.05,149.29 L218.07,148.5 L220.08,147.77 L222.1,147.09 L224.12,146.46 L226.13,145.87 L228.15,145.33 L230.17,144.82 L232.18,144.35 L234.2,143.92 L236.22,143.52 L238.23,143.15 L240.25,142.82 L242.27,142.51 L244.28,142.23 L246.3,141.98 L248.32,141.76 L250.33,141.56 L252.35,141.39 L254.37,141.24 L256.38,141.12 L258.4,141.02 L260.42,140.94 L262.43,140.88 L264.45,140.84 L266.47,140.8 L268.48,140.77 L270.5,140.73 L272.52,140.7 L274.53,140.68 L276.55,140.65 L278.57,140.63 L280.58,140.61 L282.6,140.59 L284.62,140.57 L286.63,140.56 L288.65,140.55 L290.67,140.53 L292.68,140.52 L294.7,140.51 L296.72,140.5 L298.73,140.49 L300.75,140.49 L302.77,140.48 L304.78,140.47 L306.8,140.47 L308.82,140.46 L310.83,140.46 L312.85,140.45 L314.87,140.45 L316.88,140.44 L318.9,140.44 L320.92,140.44 L322.93,140.44 L324.95,140.43 L326.97,140.43 L328.98,140.43 L331,140.43" fill="none" stroke="#1a1a1a" stroke-width="1.3" stroke-linejoin="round" stroke-linecap="round" /><path d="M210,152 L212.5,149 L240,148.3 L331,148 L331,152 Z" fill="#000088"/><path d="M210,152 L214,146 L218,147.5 L216,152 Z" fill="#111"/></g><line x1="285.5" y1="148" x2="285.5" y2="63" stroke="#555" stroke-width="0.7" /><path d="M285.5,60.6 L283.7,65.2 L287.3,65.2 Z" fill="#444"/><rect x="210" y="10.5" width="121" height="141.5" fill="none" stroke="#454545" stroke-width="1.1" /><text x="340.2" y="14.6" font-size="19.5" fill="#000" textLength="20.8" lengthAdjust="spacingAndGlyphs" style="" >(c)</text><text x="375.2" y="14.6" font-size="12.2" fill="#000" text-anchor="end" textLength="11.6" lengthAdjust="spacingAndGlyphs" style="font-weight:bold;stroke:#000;stroke-width:0.35px" >45</text><text x="375.3" y="71.2" font-size="12.2" fill="#000" text-anchor="end" textLength="11.6" lengthAdjust="spacingAndGlyphs" style="font-weight:bold;stroke:#000;stroke-width:0.35px" >30</text><text x="375.3" y="127.1" font-size="12.2" fill="#000" text-anchor="end" textLength="11.6" lengthAdjust="spacingAndGlyphs" style="font-weight:bold;stroke:#000;stroke-width:0.35px" >15</text><line x1="378.6" y1="11.4" x2="381.6" y2="11.4" stroke="#454545" stroke-width="0.8" /><line x1="378.6" y1="39.55" x2="380.6" y2="39.55" stroke="#454545" stroke-width="0.8" /><line x1="378.6" y1="67.7" x2="381.6" y2="67.7" stroke="#454545" stroke-width="0.8" /><line x1="378.6" y1="95.85" x2="380.6" y2="95.85" stroke="#454545" stroke-width="0.8" /><line x1="378.6" y1="124" x2="381.6" y2="124" stroke="#454545" stroke-width="0.8" /><rect x="385.9" y="35.05" width="20" height="116.55" fill="#b0ea6a" stroke="#86a45e" stroke-width="1.2" /><rect x="419.3" y="39.17" width="20" height="112.43" fill="#b0ea6a" stroke="#86a45e" stroke-width="1.2" /><rect x="452.8" y="136.39" width="20" height="15.21" fill="#b0ea6a" stroke="#86a45e" stroke-width="1.2" /><rect x="486.3" y="94.35" width="20" height="57.25" fill="#b0ea6a" stroke="#86a45e" stroke-width="1.2" /><line x1="395.9" y1="27.2" x2="395.9" y2="42.89" stroke="#1a1a1a" stroke-width="1.3" /><line x1="393.1" y1="27.2" x2="398.7" y2="27.2" stroke="#1a1a1a" stroke-width="1.3" /><line x1="393.1" y1="42.89" x2="398.7" y2="42.89" stroke="#1a1a1a" stroke-width="1.3" /><line x1="429.3" y1="33.81" x2="429.3" y2="44.54" stroke="#1a1a1a" stroke-width="1.3" /><line x1="426.5" y1="33.81" x2="432.1" y2="33.81" stroke="#1a1a1a" stroke-width="1.3" /><line x1="426.5" y1="44.54" x2="432.1" y2="44.54" stroke="#1a1a1a" stroke-width="1.3" /><line x1="462.8" y1="133.29" x2="462.8" y2="139.48" stroke="#1a1a1a" stroke-width="1.3" /><line x1="460" y1="133.29" x2="465.6" y2="133.29" stroke="#1a1a1a" stroke-width="1.3" /><line x1="460" y1="139.48" x2="465.6" y2="139.48" stroke="#1a1a1a" stroke-width="1.3" /><line x1="496.3" y1="86.3" x2="496.3" y2="102.4" stroke="#1a1a1a" stroke-width="1.3" /><line x1="493.5" y1="86.3" x2="499.1" y2="86.3" stroke="#1a1a1a" stroke-width="1.3" /><line x1="493.5" y1="102.4" x2="499.1" y2="102.4" stroke="#1a1a1a" stroke-width="1.3" /><line x1="395.9" y1="151.6" x2="395.9" y2="154.1" stroke="#454545" stroke-width="0.8" /><line x1="429.3" y1="151.6" x2="429.3" y2="154.1" stroke="#454545" stroke-width="0.8" /><line x1="462.8" y1="151.6" x2="462.8" y2="154.1" stroke="#454545" stroke-width="0.8" /><line x1="496.3" y1="151.6" x2="496.3" y2="154.1" stroke="#454545" stroke-width="0.8" /><line x1="412.6" y1="151.6" x2="412.6" y2="149.1" stroke="#454545" stroke-width="0.8" /><line x1="446" y1="151.6" x2="446" y2="149.1" stroke="#454545" stroke-width="0.8" /><line x1="479.5" y1="151.6" x2="479.5" y2="149.1" stroke="#454545" stroke-width="0.8" /><rect x="378.6" y="11.4" width="133.7" height="140.2" fill="none" stroke="#707070" stroke-width="1.1" /><text transform="translate(357.3,129.2) rotate(-90)" font-size="13" fill="#000" textLength="66" lengthAdjust="spacingAndGlyphs" style="font-weight:bold;stroke:#000;stroke-width:0.35px" >Mobility (cm</text><text transform="translate(353,63) rotate(-90)" font-size="8.5" fill="#000" style="font-weight:bold;stroke:#000;stroke-width:0.35px" >2</text><text transform="translate(357.3,58.6) rotate(-90)" font-size="13" fill="#000" textLength="29.2" lengthAdjust="spacingAndGlyphs" style="font-weight:bold;stroke:#000;stroke-width:0.35px" >/Vs)</text><text transform="translate(404.1,159) rotate(-30)" font-size="12.5" fill="#000" text-anchor="end" style="font-weight:bold;stroke:#000;stroke-width:0.35px" >0%+10%</text><text transform="translate(437.8,159) rotate(-30)" font-size="12.5" fill="#000" text-anchor="end" style="font-weight:bold;stroke:#000;stroke-width:0.35px" >3%+10%</text><text transform="translate(470.7,159) rotate(-30)" font-size="12.5" fill="#000" text-anchor="end" style="font-weight:bold;stroke:#000;stroke-width:0.35px" >5%+10%</text><text transform="translate(504.2,159) rotate(-30)" font-size="12.5" fill="#000" text-anchor="end" style="font-weight:bold;stroke:#000;stroke-width:0.35px" >3%+8%</text><text x="408.1" y="194.3" font-size="14.2" fill="#000" textLength="49.6" lengthAdjust="spacingAndGlyphs" style="font-weight:bold;stroke:#000;stroke-width:0.35px" >Channel</text><text x="2.7" y="214.8" font-size="19.5" fill="#000" textLength="22.4" lengthAdjust="spacingAndGlyphs" style="" >(d)</text><line x1="39.5" y1="348.3" x2="41.5" y2="348.3" stroke="#454545" stroke-width="0.8" /><line x1="39.5" y1="341" x2="41.5" y2="341" stroke="#454545" stroke-width="0.8" /><line x1="39.5" y1="333.7" x2="41.5" y2="333.7" stroke="#454545" stroke-width="0.8" /><line x1="39.5" y1="326.4" x2="41.5" y2="326.4" stroke="#454545" stroke-width="0.8" /><line x1="39.5" y1="319.1" x2="41.5" y2="319.1" stroke="#454545" stroke-width="0.8" /><line x1="39.5" y1="311.8" x2="41.5" y2="311.8" stroke="#454545" stroke-width="0.8" /><line x1="39.5" y1="304.5" x2="41.5" y2="304.5" stroke="#454545" stroke-width="0.8" /><line x1="39.5" y1="297.2" x2="41.5" y2="297.2" stroke="#454545" stroke-width="0.8" /><line x1="39.5" y1="289.9" x2="41.5" y2="289.9" stroke="#454545" stroke-width="0.8" /><line x1="39.5" y1="282.6" x2="41.5" y2="282.6" stroke="#454545" stroke-width="0.8" /><line x1="39.5" y1="275.3" x2="41.5" y2="275.3" stroke="#454545" stroke-width="0.8" /><line x1="39.5" y1="268" x2="41.5" y2="268" stroke="#454545" stroke-width="0.8" /><line x1="39.5" y1="260.7" x2="41.5" y2="260.7" stroke="#454545" stroke-width="0.8" /><line x1="39.5" y1="253.4" x2="41.5" y2="253.4" stroke="#454545" stroke-width="0.8" /><line x1="39.5" y1="246.1" x2="41.5" y2="246.1" stroke="#454545" stroke-width="0.8" /><line x1="39.5" y1="238.8" x2="41.5" y2="238.8" stroke="#454545" stroke-width="0.8" /><line x1="39.5" y1="231.5" x2="41.5" y2="231.5" stroke="#454545" stroke-width="0.8" /><line x1="39.5" y1="224.2" x2="41.5" y2="224.2" stroke="#454545" stroke-width="0.8" /><line x1="39.5" y1="216.9" x2="41.5" y2="216.9" stroke="#454545" stroke-width="0.8" /><line x1="60.63" y1="355.6" x2="60.63" y2="353.1" stroke="#454545" stroke-width="0.8" /><line x1="81.77" y1="355.6" x2="81.77" y2="353.1" stroke="#454545" stroke-width="0.8" /><line x1="102.9" y1="355.6" x2="102.9" y2="353.1" stroke="#454545" stroke-width="0.8" /><line x1="124.03" y1="355.6" x2="124.03" y2="353.1" stroke="#454545" stroke-width="0.8" /><line x1="145.17" y1="355.6" x2="145.17" y2="353.1" stroke="#454545" stroke-width="0.8" /><text x="37.8" y="230.7" font-size="12" fill="#000" text-anchor="end" textLength="16.2" lengthAdjust="spacingAndGlyphs" style="font-weight:bold;stroke:#000;stroke-width:0.35px" >0.2</text><text x="37.8" y="295.5" font-size="12" fill="#000" text-anchor="end" textLength="16.8" lengthAdjust="spacingAndGlyphs" style="font-weight:bold;stroke:#000;stroke-width:0.35px" >0.1</text><text x="37.8" y="360.2" font-size="12" fill="#000" text-anchor="end" textLength="17" lengthAdjust="spacingAndGlyphs" style="font-weight:bold;stroke:#000;stroke-width:0.35px" >0.0</text><text x="60.6" y="368.9" font-size="13" fill="#000" text-anchor="middle" textLength="18.6" lengthAdjust="spacingAndGlyphs" style="font-weight:bold;stroke:#000;stroke-width:0.35px" >300</text><text x="103.3" y="368.9" font-size="13" fill="#000" text-anchor="middle" textLength="18.6" lengthAdjust="spacingAndGlyphs" style="font-weight:bold;stroke:#000;stroke-width:0.35px" >500</text><text x="145.5" y="368.9" font-size="13" fill="#000" text-anchor="middle" textLength="18.6" lengthAdjust="spacingAndGlyphs" style="font-weight:bold;stroke:#000;stroke-width:0.35px" >700</text><text x="51.9" y="381.5" font-size="13" fill="#000" textLength="101.6" lengthAdjust="spacingAndGlyphs" style="font-weight:bold;stroke:#000;stroke-width:0.35px" >Wavelength (nm)</text><text transform="translate(16.4,335.3) rotate(-90)" font-size="13.8" fill="#000" textLength="100.4" lengthAdjust="spacingAndGlyphs" style="font-weight:bold;stroke:#000;stroke-width:0.35px" >Absorption (a.u.)</text><path d="M39.6,239 L39.83,240.13 L40.16,241.74 L40.56,243.61 L41,245.5 L41.47,247.45 L41.98,249.56 L42.55,251.66 L43.2,253.6 L43.93,255.32 L44.74,256.91 L45.6,258.45 L46.5,260 L47.46,261.57 L48.49,263.13 L49.52,264.7 L50.5,266.3 L51.41,267.96 L52.27,269.67 L53.12,271.36 L54,273 L54.95,274.63 L55.95,276.26 L56.9,277.76 L57.7,279 L58.3,279.88 L58.76,280.49 L59.16,281.01 L59.6,281.6 L60.11,282.2 L60.64,282.74 L61.15,283.44 L61.6,284.5 L61.96,286.02 L62.25,287.87 L62.52,289.91 L62.8,292 L63.1,294.14 L63.39,296.41 L63.69,298.71 L64,301 L64.32,303.17 L64.64,305.29 L65,307.51 L65.4,310 L65.85,312.89 L66.34,316.06 L66.89,319.3 L67.5,322.4 L68.18,325.37 L68.91,328.31 L69.72,331.09 L70.6,333.6 L71.54,335.79 L72.55,337.74 L73.66,339.49 L74.9,341.1 L76.28,342.57 L77.78,343.88 L79.41,345.04 L81.2,346.1 L83.12,347.04 L85.17,347.85 L87.41,348.56 L89.9,349.2 L92.73,349.76 L95.85,350.23 L99.09,350.64 L102.3,351 L105.17,351.31 L107.86,351.56 L110.95,351.78 L115,352 L120.36,352.22 L126.67,352.44 L133.39,352.63 L140,352.8 L147.04,352.94 L154.56,353.05 L161.3,353.14 L166,353.2" fill="none" stroke="#3434b4" stroke-width="1.3" stroke-linejoin="round" stroke-linecap="round" /><path d="M39.6,264.5 L40.06,266.03 L40.71,268.22 L41.48,270.7 L42.3,273.1 L43.17,275.37 L44.12,277.7 L45.14,280.05 L46.2,282.4 L47.32,284.8 L48.5,287.24 L49.71,289.62 L50.9,291.8 L52.1,293.79 L53.32,295.64 L54.5,297.32 L55.6,298.8 L56.61,300.02 L57.56,301.01 L58.42,301.89 L59.2,302.8 L59.87,303.69 L60.44,304.53 L60.94,305.42 L61.4,306.5 L61.81,307.83 L62.16,309.32 L62.48,310.91 L62.8,312.5 L63.11,314.09 L63.41,315.72 L63.7,317.36 L64,319 L64.27,320.54 L64.53,322.03 L64.82,323.62 L65.2,325.5 L65.64,327.8 L66.12,330.39 L66.72,333.07 L67.5,335.6 L68.48,337.99 L69.62,340.33 L70.93,342.56 L72.4,344.6 L74.03,346.47 L75.83,348.21 L77.79,349.74 L79.9,351 L82.17,351.93 L84.59,352.59 L87.17,353.07 L89.9,353.5 L92.82,353.87 L95.93,354.14 L99.12,354.33 L102.3,354.5 L104.56,354.63 L106.24,354.7 L109.12,354.75 L115,354.8 L126.25,354.86 L141.29,354.92 L155.94,354.97 L166,355" fill="none" stroke="#c84848" stroke-width="1.3" stroke-linejoin="round" stroke-linecap="round" /><line x1="39.7" y1="221.2" x2="55.9" y2="221.2" stroke="#c8403c" stroke-width="1.4" /><line x1="39.7" y1="235.4" x2="55.9" y2="235.4" stroke="#2a2ab4" stroke-width="1.4" /><text x="58.8" y="224.1" font-size="12.2" fill="#000" textLength="17.9" lengthAdjust="spacingAndGlyphs" style="font-weight:bold;stroke:#000;stroke-width:0.35px" >3%</text><text x="59.3" y="238" font-size="12.2" fill="#000" textLength="24.3" lengthAdjust="spacingAndGlyphs" style="font-weight:bold;stroke:#000;stroke-width:0.35px" >10%</text><rect x="80.8" y="237.4" width="85.2" height="90.2" fill="#fff" stroke="#8a8a8a" stroke-width="1" /><path d="M81,326.6 L84.51,326.56 L89.56,326.51 L95.09,326.42 L100,326.3 L104.22,326.14 L108.25,325.95 L111.91,325.71 L115,325.4 L117.31,325.07 L118.98,324.72 L120.42,324.23 L122,323.5 L123.86,322.48 L125.79,321.24 L127.65,319.83 L129.3,318.3 L130.68,316.68 L131.87,314.94 L132.95,313.05 L134,311 L135.05,308.76 L136.04,306.34 L136.97,303.81 L137.8,301.2 L138.51,298.51 L139.12,295.71 L139.67,292.86 L140.2,290 L140.72,287.15 L141.21,284.28 L141.66,281.37 L142.1,278.4 L142.51,275.31 L142.89,272.12 L143.25,268.98 L143.6,266 L143.93,263.24 L144.25,260.62 L144.57,258.1 L144.9,255.6 L145.26,253.11 L145.64,250.67 L146.03,248.29 L146.4,246 L146.79,243.64 L147.19,241.25 L147.55,239.16 L147.8,237.7" fill="none" stroke="#3a3ab8" stroke-width="1.1" stroke-linejoin="round" stroke-linecap="round" /><path d="M81,326.9 L85.44,326.87 L91.84,326.82 L98.82,326.75 L105,326.6 L110.32,326.38 L115.4,326.1 L119.93,325.77 L123.6,325.4 L126.09,325.02 L127.65,324.61 L128.78,324.12 L130,323.5 L131.37,322.75 L132.65,321.9 L133.85,320.9 L135,319.7 L136.09,318.28 L137.12,316.67 L138.09,314.9 L139,313 L139.85,310.97 L140.65,308.8 L141.4,306.48 L142.1,304 L142.76,301.29 L143.37,298.39 L143.95,295.41 L144.5,292.5 L145.02,289.73 L145.51,287.01 L145.96,284.24 L146.4,281.3 L146.81,278.1 L147.19,274.73 L147.55,271.31 L147.9,268 L148.25,264.77 L148.59,261.57 L148.91,258.48 L149.2,255.6 L149.44,252.97 L149.64,250.54 L149.83,248.24 L150,246 L150.18,243.64 L150.35,241.25 L150.5,239.16 L150.6,237.7" fill="none" stroke="#c85050" stroke-width="1.1" stroke-linejoin="round" stroke-linecap="round" /><line x1="136.5" y1="327.6" x2="141.5" y2="286" stroke="#d8b0b0" stroke-width="0.7" /><line x1="143.3" y1="327.6" x2="147.6" y2="290" stroke="#c8c8c8" stroke-width="0.7" /><line x1="120" y1="315.5" x2="135.5" y2="326" stroke="#999" stroke-width="0.6" /><line x1="151" y1="318" x2="144" y2="326" stroke="#999" stroke-width="0.6" /><line x1="102.6" y1="327.6" x2="102.6" y2="325.6" stroke="#888" stroke-width="0.7" /><line x1="123.8" y1="327.6" x2="123.8" y2="325.6" stroke="#888" stroke-width="0.7" /><line x1="145" y1="327.6" x2="145" y2="325.6" stroke="#888" stroke-width="0.7" /><text x="107" y="314.8" font-size="12" fill="#22229a" textLength="21.3" lengthAdjust="spacingAndGlyphs" style="font-weight:bold;stroke:#22229a;stroke-width:0.35px" >3.30</text><text x="144.7" y="316.6" font-size="12" fill="#c8303a" textLength="21.2" lengthAdjust="spacingAndGlyphs" style="font-weight:bold;stroke:#c8303a;stroke-width:0.35px" >3.46</text><text x="95.6" y="336.6" font-size="10.5" fill="#000" textLength="14" lengthAdjust="spacingAndGlyphs" style="font-weight:bold;stroke:#000;stroke-width:0.35px" >2.5</text><text x="138.1" y="336.6" font-size="10.5" fill="#000" textLength="14" lengthAdjust="spacingAndGlyphs" style="font-weight:bold;stroke:#000;stroke-width:0.35px" >3.5</text><text x="105.4" y="343.8" font-size="12" fill="#000" style="font-weight:bold;stroke:#000;stroke-width:0.35px;font-style:italic" >hν</text><text x="118.6" y="343.8" font-size="12" fill="#000" textLength="22.6" lengthAdjust="spacingAndGlyphs" style="font-weight:bold;stroke:#000;stroke-width:0.35px" >(eV)</text><text transform="translate(80.4,313.2) rotate(-90)" font-size="11" fill="#000" textLength="30" lengthAdjust="spacingAndGlyphs" style="font-weight:bold;stroke:#000;stroke-width:0.35px;font-style:italic" >(αhν)</text><text transform="translate(75.4,282) rotate(-90)" font-size="7.5" fill="#000" style="font-weight:bold;stroke:#000;stroke-width:0.35px" >2</text><text transform="translate(80.4,274.4) rotate(-90)" font-size="10.5" fill="#000" textLength="23" lengthAdjust="spacingAndGlyphs" style="font-weight:bold;stroke:#000;stroke-width:0.35px" >(a.u.)</text><rect x="39.5" y="213.8" width="126.8" height="141.8" fill="none" stroke="#454545" stroke-width="1.1" /><text x="176.2" y="216.8" font-size="19.5" fill="#000" textLength="22" lengthAdjust="spacingAndGlyphs" style="" >(e)</text><line x1="209.6" y1="249.5" x2="212.1" y2="249.5" stroke="#454545" stroke-width="0.8" /><line x1="209.6" y1="285" x2="212.1" y2="285" stroke="#454545" stroke-width="0.8" /><line x1="209.6" y1="320.5" x2="212.1" y2="320.5" stroke="#454545" stroke-width="0.8" /><line x1="219.25" y1="355.8" x2="219.25" y2="354" stroke="#454545" stroke-width="0.8" /><line x1="231.5" y1="355.8" x2="231.5" y2="353.3" stroke="#454545" stroke-width="0.8" /><line x1="243.75" y1="355.8" x2="243.75" y2="354" stroke="#454545" stroke-width="0.8" /><line x1="256" y1="355.8" x2="256" y2="353.3" stroke="#454545" stroke-width="0.8" /><line x1="268.25" y1="355.8" x2="268.25" y2="354" stroke="#454545" stroke-width="0.8" /><line x1="280.5" y1="355.8" x2="280.5" y2="353.3" stroke="#454545" stroke-width="0.8" /><line x1="292.75" y1="355.8" x2="292.75" y2="354" stroke="#454545" stroke-width="0.8" /><line x1="305" y1="355.8" x2="305" y2="353.3" stroke="#454545" stroke-width="0.8" /><line x1="317.25" y1="355.8" x2="317.25" y2="354" stroke="#454545" stroke-width="0.8" /><line x1="329.5" y1="355.8" x2="329.5" y2="353.3" stroke="#454545" stroke-width="0.8" /><text x="231.5" y="367.9" font-size="12" fill="#000" text-anchor="middle" style="font-weight:bold;stroke:#000;stroke-width:0.35px" >0</text><text x="256" y="367.9" font-size="12" fill="#000" text-anchor="middle" style="font-weight:bold;stroke:#000;stroke-width:0.35px" >1</text><text x="280.5" y="367.9" font-size="12" fill="#000" text-anchor="middle" style="font-weight:bold;stroke:#000;stroke-width:0.35px" >2</text><text x="305" y="367.9" font-size="12" fill="#000" text-anchor="middle" style="font-weight:bold;stroke:#000;stroke-width:0.35px" >3</text><text x="329.5" y="367.9" font-size="12" fill="#000" text-anchor="middle" style="font-weight:bold;stroke:#000;stroke-width:0.35px" >4</text><text x="203.1" y="378.9" font-size="15" fill="#000" textLength="135.5" lengthAdjust="spacingAndGlyphs" style="font-weight:bold;stroke:#000;stroke-width:0.35px" >Binding Energy (eV)</text><text transform="translate(202.4,325.8) rotate(-90)" font-size="14.6" fill="#000" textLength="82.2" lengthAdjust="spacingAndGlyphs" style="font-weight:bold;stroke:#000;stroke-width:0.35px" >Counts (a.u.)</text><line x1="221.8" y1="227.5" x2="238.6" y2="227.5" stroke="#b84040" stroke-width="1.5" /><line x1="221.8" y1="244.8" x2="238.6" y2="244.8" stroke="#2828b0" stroke-width="1.5" /><text x="241.3" y="230.2" font-size="13" fill="#000" textLength="20.2" lengthAdjust="spacingAndGlyphs" style="font-weight:bold;stroke:#000;stroke-width:0.35px" >3%</text><text x="242" y="246.4" font-size="13" fill="#000" textLength="26.3" lengthAdjust="spacingAndGlyphs" style="font-weight:bold;stroke:#000;stroke-width:0.35px" >10%</text><g clip-path="url(#ce)"><path d="M210,354.5 L212.7,354.44 L216.56,354.36 L220.9,354.27 L225,354.2 L228.77,354.15 L232.56,354.12 L236.31,354.08 L240,354 L243.71,353.87 L247.44,353.72 L250.97,353.53 L254.1,353.3 L256.71,353.04 L258.94,352.74 L260.94,352.4 L262.9,352 L264.84,351.56 L266.68,351.09 L268.4,350.54 L270,349.9 L271.45,349.17 L272.77,348.35 L274,347.43 L275.2,346.4 L276.38,345.2 L277.5,343.86 L278.57,342.47 L279.6,341.1 L280.58,339.81 L281.51,338.56 L282.39,337.24 L283.2,335.8 L283.92,334.21 L284.56,332.52 L285.17,330.72 L285.8,328.8 L286.47,326.77 L287.15,324.62 L287.83,322.37 L288.5,320 L289.17,317.47 L289.84,314.8 L290.49,312.08 L291.1,309.4 L291.67,306.75 L292.22,304.1 L292.73,301.5 L293.2,299 L293.61,296.73 L293.97,294.62 L294.32,292.46 L294.7,290 L295.07,287.39 L295.41,284.69 L295.85,281.55 L296.5,277.6 L297.43,272.49 L298.57,266.49 L299.8,260.22 L301,254.3 L302.14,248.86 L303.29,243.58 L304.44,238.41 L305.6,233.3 L306.86,227.88 L308.19,222.31 L309.4,217.28 L310.3,213.5 L310.77,211.4 L310.94,210.51 L310.97,210.25 L311,210" fill="none" stroke="#3030b0" stroke-width="1.3" stroke-linejoin="round" stroke-linecap="round" /><path d="M210,355.2 L215.68,355.17 L223.9,355.12 L232.67,355.07 L240,355 L245.44,354.93 L250.01,354.86 L253.98,354.76 L257.6,354.6 L260.78,354.38 L263.45,354.11 L265.84,353.78 L268.2,353.4 L270.61,352.94 L272.93,352.42 L275.09,351.86 L277,351.3 L278.59,350.75 L279.92,350.18 L281.12,349.6 L282.3,349 L283.46,348.43 L284.56,347.89 L285.62,347.25 L286.7,346.4 L287.8,345.35 L288.9,344.14 L290,342.73 L291.1,341.1 L292.22,339.17 L293.36,336.98 L294.46,334.65 L295.5,332.3 L296.46,329.94 L297.36,327.51 L298.2,325.05 L299,322.6 L299.75,320.18 L300.45,317.76 L301.1,315.34 L301.7,312.9 L302.23,310.51 L302.71,308.16 L303.15,305.7 L303.6,303 L304.06,299.95 L304.53,296.66 L304.97,293.28 L305.4,290 L305.75,287.06 L306.05,284.3 L306.4,281.29 L306.9,277.6 L307.59,273.01 L308.4,267.78 L309.31,262.21 L310.3,256.6 L311.41,250.85 L312.64,244.88 L313.88,238.93 L315,233.3 L316.03,227.72 L317.01,222.16 L317.86,217.22 L318.5,213.5 L318.85,211.4 L318.97,210.51 L318.98,210.25 L319,210" fill="none" stroke="#c83c3c" stroke-width="1.3" stroke-linejoin="round" stroke-linecap="round" /></g><line x1="283.2" y1="355" x2="291.3" y2="313" stroke="#a8b0c0" stroke-width="0.7" /><line x1="297.3" y1="355" x2="303.6" y2="302" stroke="#b8b8b8" stroke-width="0.7" /><text x="252.3" y="341.2" font-size="13.4" fill="#20209c" textLength="23.1" lengthAdjust="spacingAndGlyphs" style="font-weight:bold;stroke:#20209c;stroke-width:0.35px" >2.09</text><text x="302" y="353.1" font-size="13.4" fill="#c02c34" textLength="23.3" lengthAdjust="spacingAndGlyphs" style="font-weight:bold;stroke:#c02c34;stroke-width:0.35px" >2.62</text><rect x="209.6" y="213.6" width="121.4" height="142.2" fill="none" stroke="#454545" stroke-width="1.1" /><text x="339.9" y="215.4" font-size="19.5" fill="#000" textLength="19.6" lengthAdjust="spacingAndGlyphs" style="" >(f)</text><rect x="369.4" y="230" width="62" height="24" fill="url(#gcb)"/><line x1="369.4" y1="253.6" x2="431.4" y2="253.6" stroke="#22a8d4" stroke-width="1.8" /><rect x="369.4" y="334" width="62" height="22" fill="url(#gvb)"/><line x1="369.4" y1="334" x2="431.4" y2="334" stroke="#22a8d4" stroke-width="1.8" /><rect x="449.3" y="219.5" width="62.3" height="22.5" fill="url(#gcr)"/><line x1="449.3" y1="241.6" x2="511.6" y2="241.6" stroke="#c8585e" stroke-width="1.8" /><rect x="449.3" y="316.6" width="62.3" height="22" fill="url(#gvr)"/><line x1="449.3" y1="316.6" x2="511.6" y2="316.6" stroke="#c8585e" stroke-width="1.8" /><text x="388.7" y="246" font-size="14" fill="#000" textLength="18.7" lengthAdjust="spacingAndGlyphs" style="" >CB</text><text x="389.2" y="350.8" font-size="14" fill="#000" textLength="20.2" lengthAdjust="spacingAndGlyphs" style="" >VB</text><text x="468" y="235.7" font-size="14" fill="#000" textLength="19.5" lengthAdjust="spacingAndGlyphs" style="" >CB</text><text x="468.7" y="334.8" font-size="14" fill="#000" textLength="20.7" lengthAdjust="spacingAndGlyphs" style="" >VB</text><line x1="366.4" y1="273.9" x2="511" y2="273.9" stroke="#d8202a" stroke-width="2" stroke-dasharray="6.5,6"/><text x="351.8" y="281.5" font-size="14.5" fill="#000" style="font-style:italic" >E</text><text x="360.5" y="284.4" font-size="9.5" fill="#000" style="font-style:italic" >F</text><line x1="379.2" y1="274.2" x2="379.2" y2="301" stroke="#5a80b8" stroke-width="1.3" /><line x1="379.2" y1="316" x2="379.2" y2="333" stroke="#5a80b8" stroke-width="1.3" /><path d="M376.6,278.2 L379.2,274.5 L381.8,278.2" fill="none" stroke="#5a80b8" stroke-width="1.2" stroke-linejoin="round" stroke-linecap="round" /><path d="M376.6,329 L379.2,332.7 L381.8,329" fill="none" stroke="#5a80b8" stroke-width="1.2" stroke-linejoin="round" stroke-linecap="round" /><line x1="415.8" y1="254.6" x2="415.8" y2="281.5" stroke="#5a80b8" stroke-width="1.3" /><line x1="415.8" y1="297.5" x2="415.8" y2="333" stroke="#5a80b8" stroke-width="1.3" /><path d="M413.2,258.6 L415.8,254.9 L418.4,258.6" fill="none" stroke="#5a80b8" stroke-width="1.2" stroke-linejoin="round" stroke-linecap="round" /><path d="M413.2,329 L415.8,332.7 L418.4,329" fill="none" stroke="#5a80b8" stroke-width="1.2" stroke-linejoin="round" stroke-linecap="round" /><line x1="458.6" y1="274.6" x2="458.6" y2="290.5" stroke="#5a80b8" stroke-width="1.3" /><line x1="458.6" y1="304.5" x2="458.6" y2="315.6" stroke="#5a80b8" stroke-width="1.3" /><path d="M456,278.6 L458.6,274.9 L461.2,278.6" fill="none" stroke="#5a80b8" stroke-width="1.2" stroke-linejoin="round" stroke-linecap="round" /><path d="M456,311.6 L458.6,315.3 L461.2,311.6" fill="none" stroke="#5a80b8" stroke-width="1.2" stroke-linejoin="round" stroke-linecap="round" /><line x1="492.3" y1="243.4" x2="492.3" y2="254.5" stroke="#5a80b8" stroke-width="1.3" /><line x1="492.3" y1="270.5" x2="492.3" y2="315.6" stroke="#5a80b8" stroke-width="1.3" /><path d="M489.7,247.4 L492.3,243.7 L494.9,247.4" fill="none" stroke="#5a80b8" stroke-width="1.2" stroke-linejoin="round" stroke-linecap="round" /><path d="M489.7,311.6 L492.3,315.3 L494.9,311.6" fill="none" stroke="#5a80b8" stroke-width="1.2" stroke-linejoin="round" stroke-linecap="round" /><text x="361.5" y="313.6" font-size="14" fill="#000" textLength="41.8" lengthAdjust="spacingAndGlyphs" style="" >2.62 eV</text><text x="396.5" y="295" font-size="14" fill="#000" textLength="41.7" lengthAdjust="spacingAndGlyphs" style="" >3.46 eV</text><text x="441.5" y="302.4" font-size="14" fill="#000" textLength="41.5" lengthAdjust="spacingAndGlyphs" style="" >2.09 eV</text><text x="476.8" y="268.1" font-size="14" fill="#000" textLength="41.9" lengthAdjust="spacingAndGlyphs" style="" >3.30 eV</text><text x="378.7" y="377.7" font-size="15" fill="#000" textLength="43.2" lengthAdjust="spacingAndGlyphs" style="font-weight:bold;stroke:#000;stroke-width:0.35px" >3% Tb</text><text x="451.8" y="362" font-size="15" fill="#000" textLength="50.6" lengthAdjust="spacingAndGlyphs" style="font-weight:bold;stroke:#000;stroke-width:0.35px" >10% Tb</text>
</svg></body></html>
